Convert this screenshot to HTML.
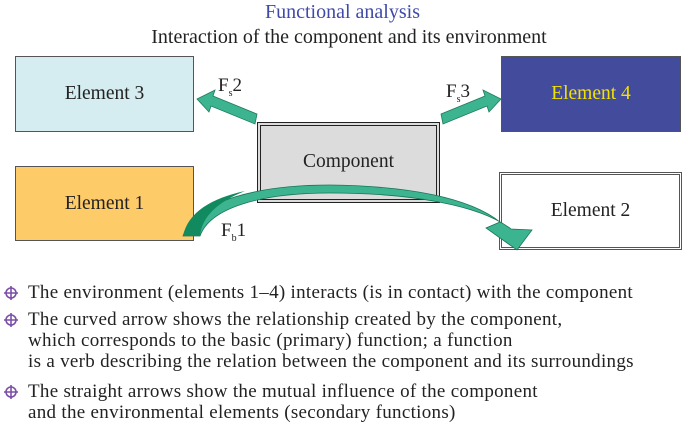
<!DOCTYPE html>
<html><head><style>
body{margin:0;width:685px;height:428px;background:#fff;font-family:"Liberation Serif",serif;position:relative;overflow:hidden;color:#222}
.t{position:absolute;white-space:nowrap}
.box{position:absolute;box-sizing:border-box;border:1.5px solid #555;display:flex;align-items:center;justify-content:center;font-size:19.5px}
.b{position:absolute;left:4px;width:14px;height:14px}
.l{position:absolute;left:28px;font-size:19px;letter-spacing:0.3px;white-space:nowrap;line-height:21px}
</style></head><body>
<div class="t" style="left:0;width:685px;text-align:center;top:1px;font-size:20px;color:#3f4aa8">Functional analysis</div>
<div class="t" style="left:0;width:698px;text-align:center;top:26px;font-size:20px">Interaction of the component and its environment</div>

<div class="box" style="left:15px;top:56px;width:179px;height:76px;background:#d5ecf1">Element 3</div>
<div class="box" style="left:501px;top:56px;width:180px;height:76px;background:#434b9c;color:#f2e200">Element 4</div>
<div class="box" style="left:15px;top:166px;width:179px;height:75px;background:#fecb69">Element 1</div>
<div class="box" style="left:499px;top:172px;width:183px;height:78px;background:#fff;border:3px double #555">Element 2</div>
<div class="box" style="left:257px;top:122px;width:183px;height:81px;background:#dcdcdc;border:4px double #222;padding-bottom:2px">Component</div>

<svg width="685" height="428" style="position:absolute;left:0;top:0">
<polygon points="257,114 213,96 215,90 197,99 209,112 211,106 255,124" fill="#3bb48f" stroke="#1f7a5c" stroke-width="0.8"/>
<polygon points="441,114 485,96 483,90 501,99 489,112 487,106 443,124" fill="#3bb48f" stroke="#1f7a5c" stroke-width="0.8"/>
<path d="M183,236 C195,200 260,185 330,185 C410,186 470,198 500,222 L486,228 L517,250 L532,230 L511,229 C480,205 410,193 330,193 C260,193 210,208 200,236 Z" fill="#3bb48f" stroke="#1b7356" stroke-width="0.8"/>
<path d="M183,236 C188,212 212,198 245,191 C218,202 202,216 200,236 Z" fill="#118a5f"/>
</svg>
<div class="t" style="left:218px;top:75px;font-size:19px">F<sub style="font-size:10px">s</sub>2</div>
<div class="t" style="left:446px;top:81px;font-size:19px">F<sub style="font-size:10px">s</sub>3</div>
<div class="t" style="left:221px;top:220px;font-size:19px">F<sub style="font-size:10px">b</sub>1</div>

<svg class="b" style="top:286px" viewBox="0 0 14 14"><circle cx="7" cy="7" r="5" fill="none" stroke="#7b4fa8" stroke-width="1.6"/><path d="M7,0V14M0,7H14" stroke="#7b4fa8" stroke-width="1.6"/></svg>
<svg class="b" style="top:313px" viewBox="0 0 14 14"><circle cx="7" cy="7" r="5" fill="none" stroke="#7b4fa8" stroke-width="1.6"/><path d="M7,0V14M0,7H14" stroke="#7b4fa8" stroke-width="1.6"/></svg>
<svg class="b" style="top:385px" viewBox="0 0 14 14"><circle cx="7" cy="7" r="5" fill="none" stroke="#7b4fa8" stroke-width="1.6"/><path d="M7,0V14M0,7H14" stroke="#7b4fa8" stroke-width="1.6"/></svg>
<div class="l" style="top:282px">The environment (elements 1–4) interacts (is in contact) with the component</div>
<div class="l" style="top:309px">The curved arrow shows the relationship created by the component,<br>which corresponds to the basic (primary) function; a function<br>is a verb describing the relation between the component and its surroundings</div>
<div class="l" style="top:381px">The straight arrows show the mutual influence of the component<br>and the environmental elements (secondary functions)</div>
</body></html>
